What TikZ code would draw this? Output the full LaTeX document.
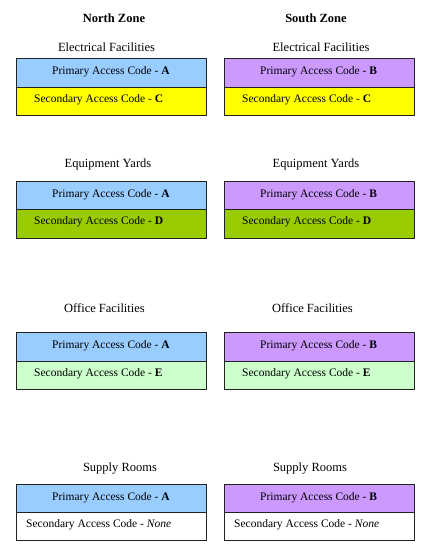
\documentclass[tikz,border=0pt]{standalone}
\usepackage{fontspec}
\setmainfont{Liberation Serif}
\definecolor{priA}{HTML}{99CCFF}
\definecolor{priB}{HTML}{CC99FF}
\definecolor{secC}{HTML}{FFFF00}
\definecolor{secD}{HTML}{99CC00}
\definecolor{secE}{HTML}{CCFFCC}
\definecolor{edge}{HTML}{222222}
\tikzset{
  cell/.style={draw=edge, line width=0.8pt, minimum width=190pt, inner sep=0pt, anchor=north west},
  celltext/.style={anchor=base west, inner sep=0pt, font=\fontsize{11.5}{13}\selectfont},
  title/.style={anchor=base, inner sep=0pt, font=\fontsize{12.5}{14}\selectfont},
  zone/.style={anchor=base, inner sep=0pt, font=\fontsize{12.5}{14}\selectfont\bfseries}
}
\begin{document}
\begin{tikzpicture}[x=1pt,y=-1pt]
\useasboundingbox[fill=white] (0,0) rectangle (432,554);
% zone headings
\node[zone] (nz) at (114,22.7) {North Zone};
\node[zone] (sz) at (316,22.7) {South Zone};
% ---- Electrical Facilities
\node[title] (t1l) at (106.5,51.7) {Electrical Facilities};
\node[title] (t1r) at (321,51.7) {Electrical Facilities};
\node[cell, fill=priA, minimum height=29pt] (p1l) at (16,58) {};
\node[cell, fill=secC, minimum height=28pt] (s1l) at (16,87) {};
\node[cell, fill=priB, minimum height=29pt] (p1r) at (224,58) {};
\node[cell, fill=secC, minimum height=28pt] (s1r) at (224,87) {};
\node[celltext] (p1lt) at (52,74) {Primary Access Code - \textbf{A}};
\node[celltext] (s1lt) at (34,102) {Secondary Access Code - \textbf{C}};
\node[celltext] (p1rt) at (260,74) {Primary Access Code - \textbf{B}};
\node[celltext] (s1rt) at (242,102) {Secondary Access Code - \textbf{C}};
% ---- Equipment Yards
\node[title] (t2l) at (108,167.3) {Equipment Yards};
\node[title] (t2r) at (316,167.3) {Equipment Yards};
\node[cell, fill=priA, minimum height=28pt] (p2l) at (16,181) {};
\node[cell, fill=secD, minimum height=29pt] (s2l) at (16,209) {};
\node[cell, fill=priB, minimum height=28pt] (p2r) at (224,181) {};
\node[cell, fill=secD, minimum height=29pt] (s2r) at (224,209) {};
\node[celltext] (p2lt) at (52,197) {Primary Access Code - \textbf{A}};
\node[celltext] (s2lt) at (34,224.5) {Secondary Access Code - \textbf{D}};
\node[celltext] (p2rt) at (260,197) {Primary Access Code - \textbf{B}};
\node[celltext] (s2rt) at (242,224.5) {Secondary Access Code - \textbf{D}};
% ---- Office Facilities
\node[title] (t3l) at (104.5,312.3) {Office Facilities};
\node[title] (t3r) at (312.5,312.3) {Office Facilities};
\node[cell, fill=priA, minimum height=29pt] (p3l) at (16,332) {};
\node[cell, fill=secE, minimum height=28pt] (s3l) at (16,361) {};
\node[cell, fill=priB, minimum height=29pt] (p3r) at (224,332) {};
\node[cell, fill=secE, minimum height=28pt] (s3r) at (224,361) {};
\node[celltext] (p3lt) at (52,348.5) {Primary Access Code - \textbf{A}};
\node[celltext] (s3lt) at (34,376.5) {Secondary Access Code - \textbf{E}};
\node[celltext] (p3rt) at (260,348.5) {Primary Access Code - \textbf{B}};
\node[celltext] (s3rt) at (242,376.5) {Secondary Access Code - \textbf{E}};
% ---- Supply Rooms
\node[title] (t4l) at (120,471) {Supply Rooms};
\node[title] (t4r) at (310,471) {Supply Rooms};
\node[cell, fill=priA, minimum height=28pt] (p4l) at (16,484) {};
\node[cell, fill=white, minimum height=28pt] (s4l) at (16,512) {};
\node[cell, fill=priB, minimum height=28pt] (p4r) at (224,484) {};
\node[cell, fill=white, minimum height=28pt] (s4r) at (224,512) {};
\node[celltext] (p4lt) at (52,500) {Primary Access Code - \textbf{A}};
\node[celltext] (s4lt) at (26,527.5) {Secondary Access Code - \textit{None}};
\node[celltext] (p4rt) at (260,500) {Primary Access Code - \textbf{B}};
\node[celltext] (s4rt) at (234,527.5) {Secondary Access Code - \textit{None}};
\end{tikzpicture}
\end{document}
